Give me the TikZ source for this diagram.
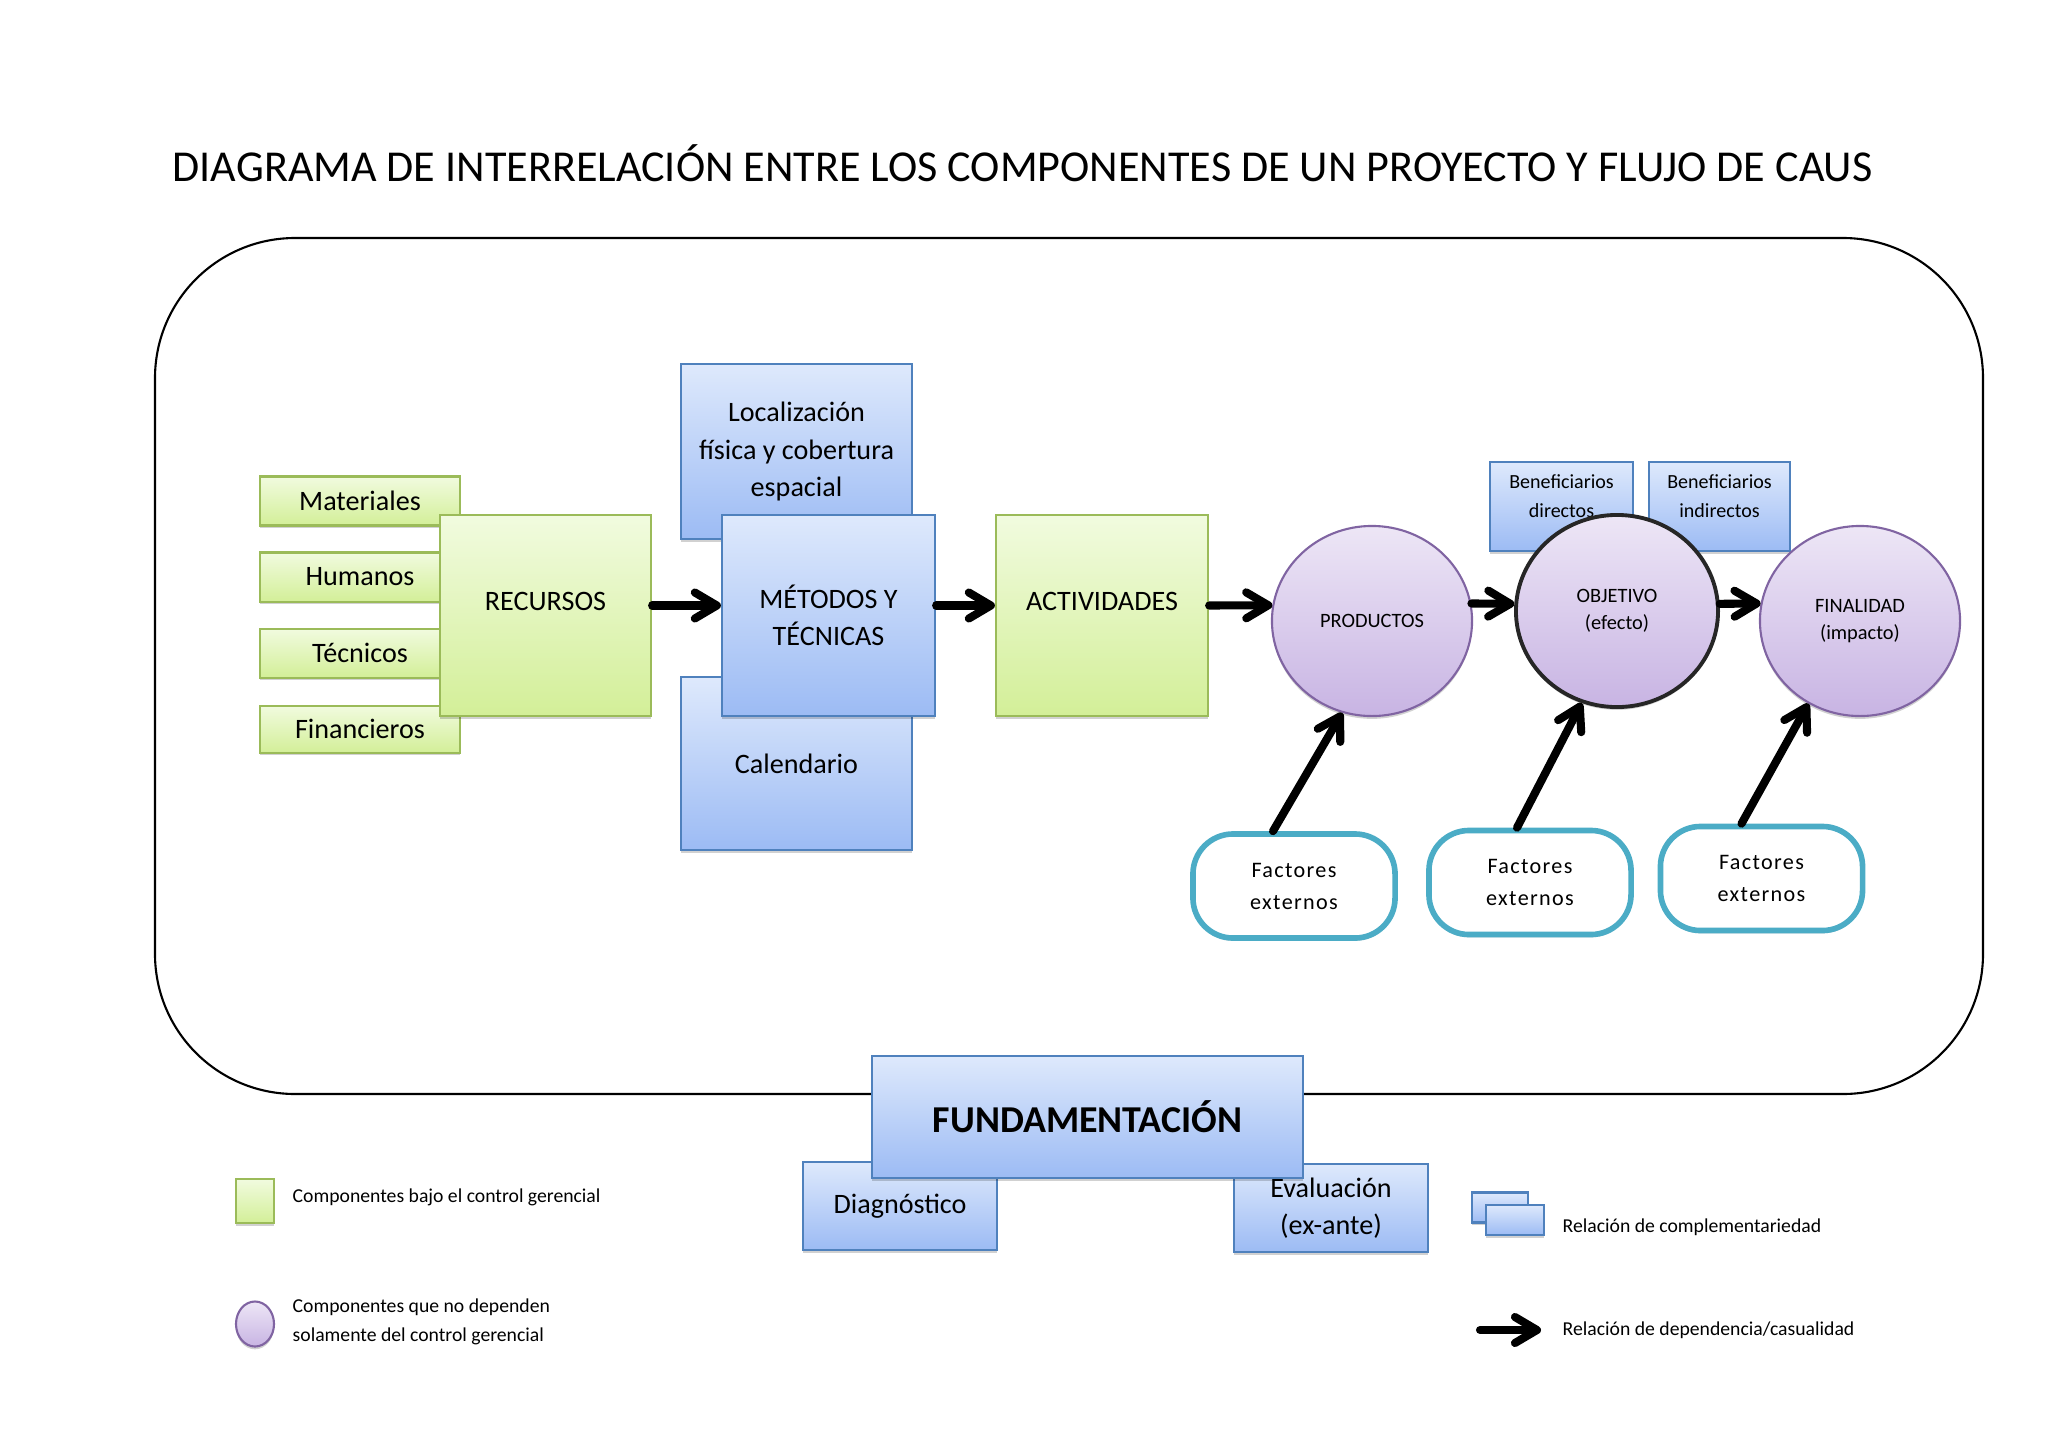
\documentclass[tikz,border=0pt]{standalone}
\usepackage{fontspec}
\setmainfont{Carlito}
\usepackage{xcolor}
\usepackage{tikz}
\usetikzlibrary{shapes,arrows.meta,positioning,shadows}

\definecolor{grnTop}{HTML}{F1FBDF}
\definecolor{grnBot}{HTML}{D3EF98}
\definecolor{grnLine}{HTML}{9BBB59}
\definecolor{bluTop}{HTML}{DEE9FC}
\definecolor{bluBot}{HTML}{9CBBF4}
\definecolor{bluLine}{HTML}{4F81BD}
\definecolor{purTop}{HTML}{EDE6F6}
\definecolor{purBot}{HTML}{C8B4E3}
\definecolor{purLine}{HTML}{8064A2}
\definecolor{tealLine}{HTML}{4BACC6}

\tikzset{
  softshadow/.style={drop shadow={shadow xshift=0pt, shadow yshift=-0.8pt, opacity=0.18, fill=black}},
  greenbox/.style={rectangle, draw=grnLine, line width=0.6pt, top color=grnTop, bottom color=grnBot, softshadow, align=center, font=\fontsize{8}{10.7}\selectfont},
  bluebox/.style={rectangle, draw=bluLine, line width=0.6pt, top color=bluTop, bottom color=bluBot, softshadow, align=center, font=\fontsize{8}{10.7}\selectfont},
  purplecirc/.style={ellipse, draw=purLine, line width=0.6pt, top color=purTop, bottom color=purBot, softshadow, align=center, inner sep=0pt, font=\fontsize{5.8}{7.7}\selectfont},
  factbox/.style={rectangle, rounded corners=0.4cm, draw=tealLine, line width=1.6pt, fill=white, softshadow, align=center, minimum width=2.02cm, minimum height=1.04cm, font=\fontsize{6.3}{9.1}\selectfont\addfontfeature{LetterSpace=6}},
  bentext/.style={align=center, font=\fontsize{5.7}{8.2}\selectfont, yshift=0.1cm},
  legtext/.style={anchor=west, align=left, inner sep=0pt, font=\fontsize{5.6}{8.2}\selectfont},
  flow/.style={line width=2.3pt, line cap=round, -{Straight Barb[length=2.2mm, width=2.6mm, round]}},
}

\begin{document}
\begin{tikzpicture}[x=0.01cm, y=-0.01cm]
    \useasboundingbox (0,0) rectangle (2048,1448);

    \node [anchor=base west, inner sep=0pt, font=\fontsize{12.55}{14}\selectfont] (title) at (172,181) {DIAGRAMA DE INTERRELACIÓN ENTRE LOS COMPONENTES DE UN PROYECTO Y FLUJO DE CAUS};
    \draw [line width=0.6pt, rounded corners=1.4cm] (155,238) rectangle (1983,1094);

    % recursos
    \node [greenbox, minimum width=2cm, minimum height=0.49cm] (mat) at (360,501) {Materiales};
    \node [greenbox, minimum width=2cm, minimum height=0.49cm, below of=mat, node distance=0.76cm] (hum) {Humanos};
    \node [greenbox, minimum width=2cm, minimum height=0.49cm, below of=hum, node distance=0.76cm] (tec) {Técnicos};
    \node [greenbox, minimum width=2cm, minimum height=0.47cm, below of=tec, node distance=0.76cm] (fin) {Financieros};
    \node [greenbox, minimum width=2.11cm, minimum height=2.01cm, text depth=0.28cm] (rec) at (545.5,615.5) {RECURSOS};

    % metodos
    \node [bluebox, minimum width=2.31cm, minimum height=1.75cm] (loc) at (796.5,451.5) {Localización\\física y cobertura\\espacial};
    \node [bluebox, minimum width=2.31cm, minimum height=1.73cm] (cal) at (796.5,763.5) {Calendario};
    \node [bluebox, minimum width=2.13cm, minimum height=2.01cm] (met) at (828.5,615.5) {MÉTODOS Y\\TÉCNICAS};
    \node [greenbox, minimum width=2.12cm, minimum height=2.01cm, text depth=0.28cm] (act) at (1102,615.5) {ACTIVIDADES};

    % resultados
    \node [bluebox, minimum width=1.43cm, minimum height=0.89cm, label={[bentext]center:Beneficiarios\\directos}] (bdir) at (1561.5,506.5) {};
    \node [bluebox, minimum width=1.41cm, minimum height=0.89cm, label={[bentext]center:Beneficiarios\\indirectos}] (bind) at (1719.5,506.5) {};
    \node [purplecirc, minimum width=2cm, minimum height=1.9cm] (prod) at (1372,621) {PRODUCTOS};
    \node [purplecirc, draw=black!85, line width=1.1pt, minimum width=2.02cm, minimum height=1.92cm] (obj) at (1617,611) {OBJETIVO\\(efecto)};
    \node [purplecirc, minimum width=2cm, minimum height=1.9cm] (fnl) at (1860,621) {FINALIDAD\\(impacto)};

    \node [factbox] (fex1) at (1294,886) {Factores\\externos};
    \node [factbox] (fex2) at (1530,882.5) {Factores\\externos};
    \node [factbox] (fex3) at (1761.5,878.5) {Factores\\externos};

    \draw [flow] ([yshift=0.1cm]rec.east) -- ([yshift=0.1cm]met.west);
    \draw [flow] ([yshift=0.1cm]met.east) -- ([yshift=0.1cm]act.west);
    \draw [flow] ([yshift=0.1cm]act.east) -- (prod.171);
    \draw [flow] (prod.10) -- (obj.176);
    \draw [flow] (obj.4) -- (fnl.170);
    \draw [flow] ([xshift=-0.21cm]fex1.north) -- (prod.252);
    \draw [flow] ([xshift=-0.13cm]fex2.north) -- (obj.249);
    \draw [flow] ([xshift=-0.2cm]fex3.north) -- (fnl.238);

    % fundamentacion
    \node [bluebox, minimum width=1.94cm, minimum height=0.88cm] (diag) at (900,1206) {Diagnóstico};
    \node [bluebox, minimum width=1.94cm, minimum height=0.88cm] (eval) at (1331,1208) {Evaluación\\(ex-ante)};
    \node [bluebox, minimum width=4.31cm, minimum height=1.22cm, font=\bfseries\fontsize{10.8}{13}\selectfont] (fund) at (1087.5,1117) {FUNDAMENTACIÓN};

    % leyenda
    \node [greenbox, minimum width=0.38cm, minimum height=0.44cm, inner sep=0pt] (lgbox) at (255,1201) {};
    \node [legtext] (lgt1) at (292,1197) {Componentes bajo el control gerencial};
    \node [purplecirc, minimum width=0.38cm, minimum height=0.45cm] (lgcirc) at (255,1324) {};
    \node [legtext] (lgt2) at (292,1322) {Componentes que no dependen\\solamente del control gerencial};
    \node [bluebox, minimum width=0.56cm, minimum height=0.3cm, inner sep=0pt] (lgq1) at (1500,1207.5) {};
    \node [bluebox, minimum width=0.58cm, minimum height=0.3cm, inner sep=0pt] (lgq2) at (1515,1220) {};
    \node [legtext] (lgt3) at (1562,1227) {Relación de complementariedad};
    \coordinate (lgA) at (1480,1330);
    \coordinate (lgB) at (1541,1330);
    \draw [flow] (lgA) -- (lgB);
    \node [legtext] (lgt4) at (1562,1330) {Relación de dependencia/casualidad};
\end{tikzpicture}
\end{document}
